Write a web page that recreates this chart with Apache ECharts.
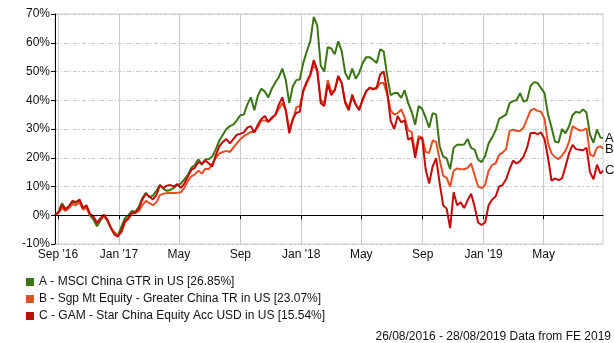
<!DOCTYPE html>
<html><head><meta charset="utf-8">
<script src="https://cdn.jsdelivr.net/npm/echarts@6/dist/echarts.min.js"></script>
<style>html,body{margin:0;padding:0;background:#fff}#c{width:614px;height:343px}</style>
</head><body><div id="c"></div>
<script>
// x domain: weekly observations from 26/08/2016, plus the final day 28/08/2019
const startDate = '2016-08-26';
const weeksCount = 157;
const endDate = '2019-08-28';

const seriesNames = [
  'A - MSCI China GTR in US [26.85%]',
  'B - Sgp Mt Equity - Greater China TR in US [23.07%]',
  'C - GAM - Star China Equity Acc USD in US [15.54%]'
];
const endTags = ['A', 'B', 'C'];

const seriesA = [0,1.2,4.2,2.2,3.0,4.5,4.3,5.2,2.8,3.0,0.0,-1.5,-3.8,-1.8,-0.2,-2.0,-4.5,-6.0,-7.0,-4.0,-1.0,0.0,1.5,1.2,3.0,6.0,7.8,6.2,6.8,8.5,10.5,9.2,
8.5,8.8,9.5,10.5,11,12.5,14,16.5,17.5,19.5,17.5,19.5,19.5,20.5,23,26,28,30,31,31.5,33,34.8,35,38.5,41,36.5,41.5,44,43,41,44,
46.2,48,51,47,39,44.8,47,47.2,53,57,60.5,69,66,52,50,58.5,58,56,60.5,57,49.5,47.2,51,47.5,49.5,53,55,55,54,53,57.7,57,
48.5,41.8,42.5,42.5,40.8,43.5,39,36,31.5,38,37,34,30.5,35.5,35,24,20.5,19.8,16,23.5,24.5,24.5,24.6,26.5,23.4,22.8,19.3,18.5,20.5,25,27,
29.5,33.5,34.3,35,39,39.7,40,42.5,39.5,40,45,46.3,46,44.2,42.5,35,30.5,25.6,25.3,30,28.5,31,34.8,36,35.6,36.8,35.7,28,25.2,29.8,27,
26.85];

const seriesB = [0,0.8,2.5,1.5,2.5,3.8,3.5,4.5,2.0,2.5,0.2,-0.5,-2.5,-1.2,-0.3,-1.8,-4.3,-6.3,-7.0,-6.0,-2.5,-1.3,0.5,0.8,1.5,3.5,5.0,4.2,3.5,4.5,7.0,7.5,
7.7,7.8,7.7,7.8,8,9.5,12,13.5,14.2,15.5,14.5,16.2,16,18,20,21.5,22,22.4,22,23.5,25,26.5,27.5,28.2,29,29,30.5,33,33,32.5,33.5,
35,37,39,36.5,30,33,37.5,38,43,46,48.5,52.5,50,40,39,47,43,43.5,48,46,39.5,37.5,41,38.5,37,40,43,44.5,44,44,46,46,
42,36.5,35,35.5,36.8,34,29.5,29,21.5,27.5,27,22,21.7,26,25.5,19.3,13.8,13,10,15.5,16.3,16,16,16.5,18,14,10,9.4,10.5,15.5,17.5,
18,21,21.8,23,29.3,29.8,29.3,29.3,30.5,33.5,36.5,37,36.3,36,33.5,25,21.5,20.2,19.5,20.8,22.5,25.5,31,30.2,29.5,29.6,30.2,21.2,20.5,23.5,24,
23.07];

const seriesC = [0,1.0,3.5,2.0,3.2,5.0,4.6,5.5,2.5,3.5,0.5,-0.5,-2.8,-1.0,0.2,-1.5,-4.5,-6.7,-7.4,-5.5,-2.0,-1.0,1.0,0.8,2.5,5.5,7.5,6.5,5.5,7.0,10.5,9.5,
10.3,10.5,10,10.8,9.5,11,13.5,15.8,16.5,18.5,18,19,18,17,21,24,25.5,26.5,25,26.5,28,28.3,28.8,30.5,31,28.8,31.5,33.5,34.5,32.5,34,
34.8,38.5,41,36.5,28.5,33.5,35.6,36,43.5,46.5,49,54,50.5,39,38,45.5,41.8,43.5,48.5,46,39,36.5,42,38.5,36.5,40.5,43.2,44.3,43.8,44.5,49,50,
43,32.8,30,34.5,32.3,33,26.3,27,20,26.5,27,16,11,17,19.8,11.2,3.5,2.3,-4.5,8,3.5,4.5,2.5,5.2,7.5,3,-2.5,-3.4,-2.5,3.5,5.5,
6.5,10,10.5,12.5,16,19,18,18.8,20.5,23.5,28.5,28.7,28.2,28.8,26.5,20,12,12.8,12.2,12.8,17,21.5,24.5,23,22.8,22.6,23.5,15,12.5,17.6,14.5,
15.54];

const tickDates = ['2016-09-01','2017-01-01','2017-05-01','2017-09-01','2018-01-01','2018-05-01','2018-09-01','2019-01-01','2019-05-01'];
const tickLabels = ["Sep '16","Jan '17","May","Sep","Jan '18","May","Sep","Jan '19","May"];

const yMin = -10, yMax = 70, yStep = 10;
const footerText = '26/08/2016 - 28/08/2019 Data from FE 2019';
const colors = ['#3c7515', '#e64f25', '#c20a0a'];

// date helpers (UTC day numbers -> ms)
function ts(str){ const p = str.split('-').map(Number); return Date.UTC(p[0], p[1]-1, p[2]); }
const times = [];
for (let i = 0; i < weeksCount; i++) times.push(ts(startDate) + i * 7 * 86400000);
times.push(ts(endDate));
const tickTimes = tickDates.map(ts);

function toPairs(vals){ return vals.map((v,i)=>[times[i], v]); }

const font = 'Liberation Sans, Arial, sans-serif';
const chart = echarts.init(document.getElementById('c'), null, {renderer:'canvas'});
const dataSets = [seriesA, seriesB, seriesC];

chart.setOption({
  animation: false,
  backgroundColor: '#fff',
  grid: {left: 55, right: 11, top: 14, bottom: 99, show: true, borderColor: '#c8c8c8', borderWidth: 1, backgroundColor: 'transparent'},
  xAxis: {
    type: 'value', min: ts(startDate), max: ts(endDate),
    axisLine: {show: true, lineStyle: {color: '#000', width: 1}},
    axisTick: {show: true, length: 4, lineStyle: {color: '#000'}, customValues: tickTimes},
    axisLabel: {customValues: tickTimes, color: '#111', fontFamily: font, fontSize: 12, margin: 5,
      formatter: function(v){ const i = tickTimes.indexOf(v); return i >= 0 ? tickLabels[i] : ''; }},
    splitLine: {show: true, lineStyle: {color: '#c8c8c8', width: 1, type: 'solid'}}
  },
  yAxis: {
    type: 'value', min: yMin, max: yMax, interval: yStep,
    axisLine: {show: true, lineStyle: {color: '#000', width: 1}},
    axisTick: {show: true, length: 4, lineStyle: {color: '#000'}},
    axisLabel: {color: '#111', fontFamily: font, fontSize: 12, margin: 5, formatter: '{value}%'},
    splitLine: {show: true, lineStyle: {color: '#c8c8c8', width: 1, type: [4,2,1,2]}}
  },
  legend: {
    orient: 'vertical', left: 21, top: 270, itemWidth: 8, itemHeight: 8, itemGap: 3, icon: 'rect',
    data: seriesNames,
    textStyle: {color: '#111', fontFamily: font, fontSize: 12, lineHeight: 14}
  },
  graphic: [{
    type: 'text', right: 3, top: 331,
    style: {text: footerText, fill: '#111', font: '12px ' + font}
  }],
  series: dataSets.map((vals, k) => {
    const s = {
      name: seriesNames[k], type: 'line', data: toPairs(vals), showSymbol: false, symbol: 'none',
      color: colors[k], lineStyle: {width: 2, color: colors[k]}, z: 2 + k,
      endLabel: {show: true, formatter: endTags[k], color: '#111', fontFamily: font, fontSize: 13, distance: 2}
    };
    if (k === 0) s.markLine = {silent: true, symbol: 'none', label: {show: false},
      lineStyle: {color: '#000', width: 1, type: [4,2,1,2]}, data: [{yAxis: 0}]};
    return s;
  })
});
</script></body></html>
